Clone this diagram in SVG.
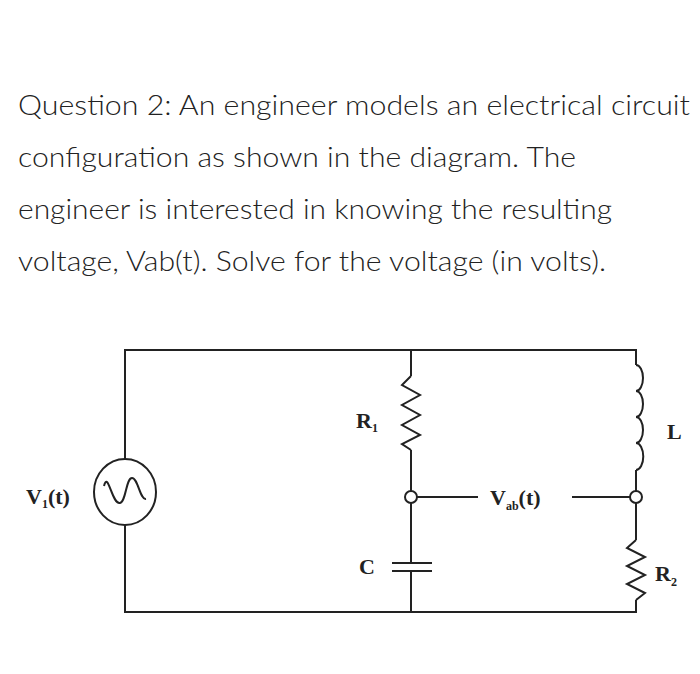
<svg xmlns="http://www.w3.org/2000/svg" width="700" height="674" viewBox="0 0 700 674">
<style>
.q{font-family:Lato,"Open Sans","Liberation Sans",sans-serif;font-size:27px;font-weight:300;fill:#222}
.w{stroke:#222;stroke-width:2;fill:none}
.l{font-family:"Liberation Serif",serif;font-size:22px;font-weight:bold;fill:#222}
.s{font-size:12px}
</style>
<rect width="700" height="674" fill="#fff"/>
<g id="question">
<text class="q" x="18" y="115" textLength="672" lengthAdjust="spacingAndGlyphs">Question 2:  An engineer models an electrical circuit</text>
<text class="q" x="18" y="167" textLength="558" lengthAdjust="spacingAndGlyphs">configuration as shown in the diagram. The</text>
<text class="q" x="18" y="219" textLength="594" lengthAdjust="spacingAndGlyphs">engineer is interested in knowing the resulting</text>
<text class="q" x="18" y="271" textLength="588" lengthAdjust="spacingAndGlyphs">voltage, Vab(t). Solve for the voltage (in volts).</text>
</g>
<g id="connectors" class="w">
<path d="M125 459V350H636V365M411 350V376M411 450V491M411 503V563M411 571V612M125 525V612H636V600M636 470V491M636 503V540M417 497H478M572 497H631"/>
</g>
<g id="V1"><ellipse class="w" cx="125" cy="492" rx="31" ry="33"/><path class="w" d="M104 486C108 470 112 505 120 503C126 502 126 478 132 478C138 478 140 500 146 499"/>
<text class="l" x="26" y="504">V<tspan class="s" dy="4">1</tspan><tspan dy="-4">(t)</tspan></text></g>
<g id="R1"><path class="w" d="M411 376L402 385L420 395L402 405L420 415L402 425L420 435L402 444L411 450"/><text class="l" x="356" y="428">R<tspan class="s" dy="4">1</tspan></text></g>
<g id="L"><path class="w" d="M636 365A7 13 0 0 1 636 391A7 13 0 0 1 636 417A7 13 0 0 1 636 443A7 13 0 0 1 636 470"/><text class="l" x="667" y="439">L</text></g>
<g id="a"><circle class="w" cx="411" cy="497" r="6"/></g>
<g id="b"><circle class="w" cx="636" cy="497" r="6"/></g>
<g id="Vab"><text class="l" x="490" y="505">V<tspan class="s" dy="5">ab</tspan><tspan dy="-5">(t)</tspan></text></g>
<g id="C"><path class="w" stroke-width="3" d="M392 563H432M392 571H432"/><text class="l" x="359" y="574">C</text></g>
<g id="R2"><path class="w" d="M636 540L627 548L645 557L627 566L645 575L627 584L645 593L636 600"/><text class="l" x="655" y="581">R<tspan class="s" dy="5">2</tspan></text></g>
</svg>
